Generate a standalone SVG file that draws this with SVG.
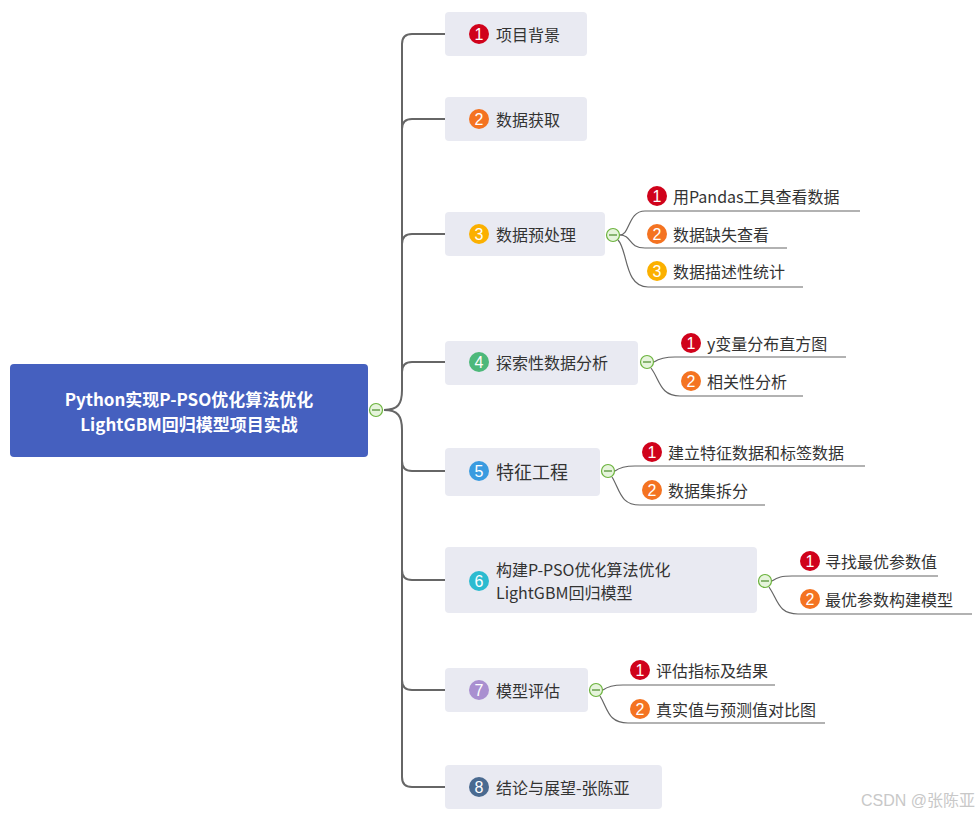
<svg xmlns="http://www.w3.org/2000/svg" width="980" height="817" viewBox="0 0 980 817">
<style>
text{font-family:"Microsoft YaHei","Noto Sans CJK SC","Noto Sans",sans-serif;fill:#333;font-size:16px;dominant-baseline:central}
.box{fill:#E9EAF2}
.b{fill:#fff;font-size:16px;text-anchor:middle;font-family:"Liberation Sans","Noto Sans",sans-serif}
.tr{fill:none;stroke:#666;stroke-width:2}
.br{fill:none;stroke:#666;stroke-width:1.2}
.col{fill:#e6f4dc;stroke:#6cb33e;stroke-width:1.2}
.colm{stroke:#4a8a2a;stroke-width:1.2}
</style>
<g id="connectors">
<path class="tr" stroke-width="3" d="M384,410 C398,410 402,404 402,390 L402,44 Q402,34 412,34 L445,34"/>
<path class="tr" d="M402,129 Q402,119 412,119 L445,119"/>
<path class="tr" d="M402,244 Q402,234 412,234 L445,234"/>
<path class="tr" d="M402,372 Q402,362 412,362 L445,362"/>
<path class="tr" stroke-width="3" d="M384,410 C398,410 402,416 402,430 L402,777 Q402,787 412,787 L445,787"/>
<path class="tr" d="M402,461 Q402,471 412,471 L445,471"/>
<path class="tr" d="M402,570 Q402,580 412,580 L445,580"/>
<path class="tr" d="M402,680 Q402,690 412,690 L445,690"/>
<path class="br" d="M620,235 C630,235 628,211 645,211 L860,211"/>
<path class="br" d="M620,235 C632,235 628,248 645,248 L787,248"/>
<path class="br" d="M618,240 C628,250 624,287 648,287 L803,287"/>
<path class="br" d="M654,362 C660,358 665,357 675,357 L846,357"/>
<path class="br" d="M651,368 C660,380 660,396 680,396 L803,396"/>
<path class="br" d="M615,471 C620,467 625,466 635,466 L865,466"/>
<path class="br" d="M612,477 C620,490 620,505 640,505 L765,505"/>
<path class="br" d="M772,581 C778,577 782,576 792,576 L938,576"/>
<path class="br" d="M769,587 C778,600 778,614 798,614 L972,614"/>
<path class="br" d="M603,690 C608,686 613,685 623,685 L775,685"/>
<path class="br" d="M600,696 C608,709 608,723 628,723 L825,723"/>
</g>
<g id="root">
<rect x="10" y="364" width="358" height="93" rx="4" fill="#4560BF"/>
<text x="189" y="398" text-anchor="middle" style="fill:#fff;font-weight:bold;font-size:17px">Python实现P-PSO优化算法优化</text>
<text x="189" y="423" text-anchor="middle" style="fill:#fff;font-weight:bold;font-size:17px">LightGBM回归模型项目实战</text>
<circle class="col" cx="376" cy="410" r="6.5"/><line class="colm" x1="372" y1="410" x2="380" y2="410"/>
</g>
<g id="n1"><rect class="box" x="445" y="12" width="142" height="44" rx="4"/><circle cx="479" cy="34" r="10" fill="#D0021B"/><text class="b" x="479" y="34">1</text><text x="496" y="34">项目背景</text></g>
<g id="n2"><rect class="box" x="445" y="97" width="142" height="44" rx="4"/><circle cx="479" cy="119" r="10" fill="#F47321"/><text class="b" x="479" y="119">2</text><text x="496" y="119">数据获取</text></g>
<g id="n3"><rect class="box" x="445" y="212" width="160" height="44" rx="4"/><circle cx="479" cy="234" r="10" fill="#FBB000"/><text class="b" x="479" y="234">3</text><text x="496" y="234">数据预处理</text>
<circle class="col" cx="613" cy="235" r="6.5"/><line class="colm" x1="609" y1="235" x2="617" y2="235"/></g>
<g id="n3-1"><circle cx="657" cy="196" r="10" fill="#D0021B"/><text class="b" x="657" y="196">1</text><text x="673" y="196">用Pandas工具查看数据</text></g>
<g id="n3-2"><circle cx="657" cy="234" r="10" fill="#F47321"/><text class="b" x="657" y="234">2</text><text x="673" y="234">数据缺失查看</text></g>
<g id="n3-3"><circle cx="657" cy="271" r="10" fill="#FBB000"/><text class="b" x="657" y="271">3</text><text x="673" y="271">数据描述性统计</text></g>
<g id="n4"><rect class="box" x="445" y="341" width="193" height="44" rx="4"/><circle cx="479" cy="362" r="10" fill="#4DB87A"/><text class="b" x="479" y="362">4</text><text x="496" y="362">探索性数据分析</text>
<circle class="col" cx="647" cy="362" r="6.5"/><line class="colm" x1="643" y1="362" x2="651" y2="362"/></g>
<g id="n4-1"><circle cx="691" cy="343" r="10" fill="#D0021B"/><text class="b" x="691" y="343">1</text><text x="707" y="343">y变量分布直方图</text></g>
<g id="n4-2"><circle cx="691" cy="381" r="10" fill="#F47321"/><text class="b" x="691" y="381">2</text><text x="707" y="381">相关性分析</text></g>
<g id="n5"><rect class="box" x="445" y="448" width="155" height="48" rx="4"/><circle cx="479" cy="471" r="10" fill="#3A9BE0"/><text class="b" x="479" y="471">5</text><text x="496" y="471" style="font-size:18px">特征工程</text>
<circle class="col" cx="608" cy="471" r="6.5"/><line class="colm" x1="604" y1="471" x2="612" y2="471"/></g>
<g id="n5-1"><circle cx="652" cy="452" r="10" fill="#D0021B"/><text class="b" x="652" y="452">1</text><text x="668" y="452">建立特征数据和标签数据</text></g>
<g id="n5-2"><circle cx="652" cy="490" r="10" fill="#F47321"/><text class="b" x="652" y="490">2</text><text x="668" y="490">数据集拆分</text></g>
<g id="n6"><rect class="box" x="445" y="547" width="312" height="66" rx="4"/><circle cx="479" cy="581" r="10" fill="#2CBBD0"/><text class="b" x="479" y="581">6</text><text x="496" y="569">构建P-PSO优化算法优化</text><text x="496" y="592">LightGBM回归模型</text>
<circle class="col" cx="765" cy="581" r="6.5"/><line class="colm" x1="761" y1="581" x2="769" y2="581"/></g>
<g id="n6-1"><circle cx="810" cy="561" r="10" fill="#D0021B"/><text class="b" x="810" y="561">1</text><text x="825" y="561">寻找最优参数值</text></g>
<g id="n6-2"><circle cx="810" cy="599" r="10" fill="#F47321"/><text class="b" x="810" y="599">2</text><text x="825" y="599">最优参数构建模型</text></g>
<g id="n7"><rect class="box" x="445" y="668" width="143" height="44" rx="4"/><circle cx="479" cy="690" r="10" fill="#A98FD0"/><text class="b" x="479" y="690">7</text><text x="496" y="690">模型评估</text>
<circle class="col" cx="596" cy="690" r="6.5"/><line class="colm" x1="592" y1="690" x2="600" y2="690"/></g>
<g id="n7-1"><circle cx="640" cy="670" r="10" fill="#D0021B"/><text class="b" x="640" y="670">1</text><text x="656" y="670">评估指标及结果</text></g>
<g id="n7-2"><circle cx="640" cy="709" r="10" fill="#F47321"/><text class="b" x="640" y="709">2</text><text x="656" y="709">真实值与预测值对比图</text></g>
<g id="n8"><rect class="box" x="445" y="765" width="217" height="44" rx="4"/><circle cx="479" cy="787" r="10" fill="#4A6A90"/><text class="b" x="479" y="787">8</text><text x="496" y="787">结论与展望-张陈亚</text></g>
<text x="975" y="800" text-anchor="end" style="fill:#c8c8c8;font-size:16px;font-family:'Liberation Sans','Noto Sans CJK SC',sans-serif">CSDN @张陈亚</text>
</svg>
